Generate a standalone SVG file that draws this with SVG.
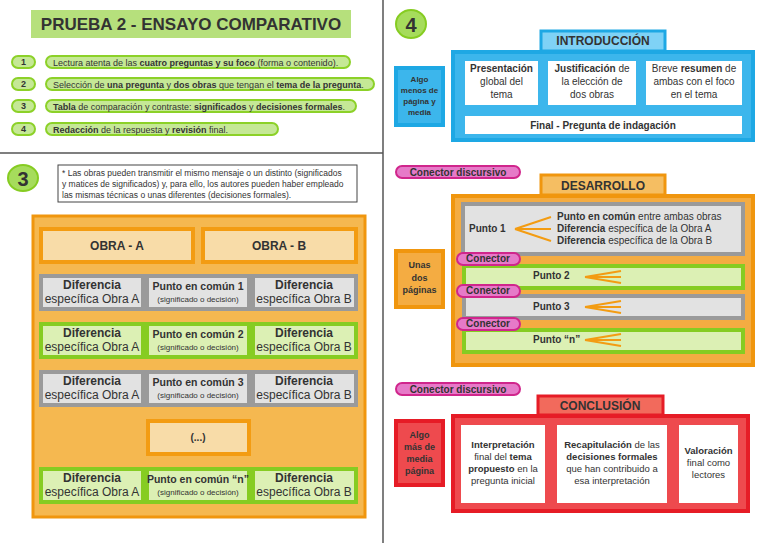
<svg xmlns="http://www.w3.org/2000/svg" width="768" height="543" viewBox="0 0 768 543">
<style>
text{font-family:"Liberation Sans",Arial,sans-serif;fill:#333}
.b{font-weight:bold}
.pillg{fill:#c5e896;stroke:#8cd128;stroke-width:2}
.gray{fill:#e2e2e2;stroke:#9a9a9a;stroke-width:4}
.green{fill:#dcf0b4;stroke:#86cc22;stroke-width:4}
.ocell{fill:#f8dca8;stroke:#f39c12;stroke-width:4}
.pink{fill:#e67ac8;stroke:#d0268c;stroke-width:2}
.blue{fill:#3cb6ec;stroke:#1ea8e4;stroke-width:4}
.orange{fill:#f4ac42;stroke:#f0960e;stroke-width:4}
.red{fill:#ee4a4e;stroke:#e61c26;stroke-width:4}
.white{fill:#fff}
.fan{stroke:#f39c12;stroke-width:2;fill:none}
</style>
<rect width="768" height="543" fill="#fff"/>
<g id="dividers" stroke="#555" stroke-width="1.5"><line x1="383" y1="0" x2="383" y2="543"/><line x1="0" y1="153" x2="383" y2="153"/></g>

<g id="title"><rect x="31" y="10" width="320" height="28" fill="#b6e07c"/><text x="191" y="30" font-size="17" class="b" text-anchor="middle" fill="#222">PRUEBA 2 - ENSAYO COMPARATIVO</text></g>

<g id="steps">
<rect class="pillg" x="12" y="56" width="23" height="12" rx="6"/><text x="23.5" y="65" text-anchor="middle" class="b" font-size="9">1</text>
<rect class="pillg" x="46" y="56" width="304" height="12" rx="6"/><text x="53" y="65.5" font-size="9">Lectura atenta de las <tspan class="b">cuatro preguntas y su foco</tspan> (forma o contenido).</text>
<rect class="pillg" x="12" y="78" width="23" height="12" rx="6"/><text x="23.5" y="87" text-anchor="middle" class="b" font-size="9">2</text>
<rect class="pillg" x="46" y="78" width="328" height="12" rx="6"/><text x="53" y="87.5" font-size="9">Selección de <tspan class="b">una pregunta</tspan> y <tspan class="b">dos obras</tspan> que tengan el <tspan class="b">tema de la pregunta</tspan>.</text>
<rect class="pillg" x="12" y="100" width="23" height="12" rx="6"/><text x="23.5" y="109" text-anchor="middle" class="b" font-size="9">3</text>
<rect class="pillg" x="46" y="100" width="310" height="12" rx="6"/><text x="53" y="109.5" font-size="9"><tspan class="b">Tabla</tspan> de comparación y contraste: <tspan class="b">significados</tspan> y <tspan class="b">decisiones formales</tspan>.</text>
<rect class="pillg" x="12" y="123" width="23" height="12" rx="6"/><text x="23.5" y="132" text-anchor="middle" class="b" font-size="9">4</text>
<rect class="pillg" x="46" y="123" width="232" height="12" rx="6"/><text x="53" y="132.5" font-size="9"><tspan class="b">Redacción</tspan> de la respuesta y <tspan class="b">revisión</tspan> final.</text>
</g>

<g id="sec3">
<ellipse cx="23" cy="178" rx="15" ry="13" fill="#a6dc5c" stroke="#86cc22" stroke-width="2"/><text x="23" y="186" text-anchor="middle" class="b" font-size="20" fill="#222">3</text>
<rect x="58" y="165" width="299" height="37" fill="#fff" stroke="#444" stroke-width="1"/>
<text font-size="8.5" fill="#333"><tspan x="62" y="176">* Las obras pueden transmitir el mismo mensaje o un distinto (significados</tspan><tspan x="62" y="187">y matices de significados) y, para ello, los autores pueden haber empleado</tspan><tspan x="62" y="198">las mismas técnicas o unas diferentes (decisiones formales).</tspan></text>
</g>

<g id="tabla">
<rect x="33" y="216" width="332" height="301" fill="#f5b850" stroke="#f0960e" stroke-width="3"/>
<rect class="ocell" x="41" y="229" width="152" height="33"/><text x="117" y="250" text-anchor="middle" class="b" font-size="12">OBRA - A</text>
<rect class="ocell" x="203" y="229" width="153" height="33"/><text x="279" y="250" text-anchor="middle" class="b" font-size="12">OBRA - B</text>
<g font-size="12">
<rect class="gray" x="41" y="276" width="102" height="33"/><rect class="gray" x="147" y="276" width="102" height="33"/><rect class="gray" x="253" y="276" width="103" height="33"/>
<text x="92" y="289" text-anchor="middle" class="b">Diferencia</text><text x="92" y="303" text-anchor="middle">específica Obra A</text>
<text x="198" y="290" text-anchor="middle" class="b" font-size="10.5">Punto en común 1</text><text x="198" y="302" text-anchor="middle" font-size="8">(significado o decisión)</text>
<text x="304" y="289" text-anchor="middle" class="b">Diferencia</text><text x="304" y="303" text-anchor="middle">específica Obra B</text>
<rect class="green" x="41" y="324" width="102" height="33"/><rect class="green" x="147" y="324" width="102" height="33"/><rect class="green" x="253" y="324" width="103" height="33"/>
<text x="92" y="337" text-anchor="middle" class="b">Diferencia</text><text x="92" y="351" text-anchor="middle">específica Obra A</text>
<text x="198" y="338" text-anchor="middle" class="b" font-size="10.5">Punto en común 2</text><text x="198" y="350" text-anchor="middle" font-size="8">(significado o decisión)</text>
<text x="304" y="337" text-anchor="middle" class="b">Diferencia</text><text x="304" y="351" text-anchor="middle">específica Obra B</text>
<rect class="gray" x="41" y="372" width="102" height="33"/><rect class="gray" x="147" y="372" width="102" height="33"/><rect class="gray" x="253" y="372" width="103" height="33"/>
<text x="92" y="385" text-anchor="middle" class="b">Diferencia</text><text x="92" y="399" text-anchor="middle">específica Obra A</text>
<text x="198" y="386" text-anchor="middle" class="b" font-size="10.5">Punto en común 3</text><text x="198" y="398" text-anchor="middle" font-size="8">(significado o decisión)</text>
<text x="304" y="385" text-anchor="middle" class="b">Diferencia</text><text x="304" y="399" text-anchor="middle">específica Obra B</text>
<rect class="ocell" x="148" y="421" width="101" height="33"/><text x="198" y="441" text-anchor="middle" class="b" font-size="10">(...)</text>
<rect class="green" x="41" y="469" width="102" height="33"/><rect class="green" x="147" y="469" width="102" height="33"/><rect class="green" x="253" y="469" width="103" height="33"/>
<text x="92" y="482" text-anchor="middle" class="b">Diferencia</text><text x="92" y="496" text-anchor="middle">específica Obra A</text>
<text x="198" y="483" text-anchor="middle" class="b" font-size="10.5">Punto en común “n”</text><text x="198" y="495" text-anchor="middle" font-size="8">(significado o decisión)</text>
<text x="304" y="482" text-anchor="middle" class="b">Diferencia</text><text x="304" y="496" text-anchor="middle">específica Obra B</text>
</g>
</g>

<g id="sec4"><ellipse cx="411" cy="24" rx="15" ry="14" fill="#a6dc5c" stroke="#86cc22" stroke-width="2"/><text x="411" y="32" text-anchor="middle" class="b" font-size="20" fill="#222">4</text></g>

<g id="introduccion">
<rect class="blue" x="453" y="52" width="300" height="88"/>
<rect x="541" y="31" width="124" height="20" fill="#7fd2f6" stroke="#1ea8e4" stroke-width="3"/>
<text x="603" y="45" text-anchor="middle" class="b" font-size="12">INTRODUCCIÓN</text>
<rect class="blue" x="396" y="68" width="47" height="57" stroke-width="3"/>
<text font-size="8" class="b" text-anchor="middle"><tspan x="419.5" y="82">Algo</tspan><tspan x="419.5" y="93">menos de</tspan><tspan x="419.5" y="104">página y</tspan><tspan x="419.5" y="115">media</tspan></text>
<g font-size="10" text-anchor="middle">
<rect class="white" x="465" y="61" width="73" height="44"/><text x="501.5" y="72" class="b">Presentación</text><text x="501.5" y="85">global del</text><text x="501.5" y="98">tema</text>
<rect class="white" x="548" y="61" width="88" height="44"/><text x="592" y="72"><tspan class="b">Justificación</tspan> de</text><text x="592" y="85">la elección de</text><text x="592" y="98">dos obras</text>
<rect class="white" x="646" y="61" width="96" height="44"/><text x="694" y="72">Breve <tspan class="b">resumen</tspan> de</text><text x="694" y="85">ambas con el foco</text><text x="694" y="98">en el tema</text>
<rect class="white" x="465" y="116" width="277" height="18"/><text x="603" y="129" class="b">Final -  Pregunta de indagación</text>
</g>
</g>

<g id="conector1"><rect class="pink" x="396" y="166" width="124" height="12" rx="6"/><text x="458" y="175.5" text-anchor="middle" class="b" font-size="10">Conector discursivo</text></g>

<g id="desarrollo">
<rect class="orange" x="453" y="196" width="300" height="169"/>
<rect x="541" y="175" width="124" height="20" fill="#f5be62" stroke="#f0960e" stroke-width="3"/>
<text x="603" y="190" text-anchor="middle" class="b" font-size="12">DESARROLLO</text>
<rect class="orange" x="396" y="251" width="47" height="56" stroke-width="3"/>
<text font-size="9" class="b" text-anchor="middle"><tspan x="419.5" y="268">Unas</tspan><tspan x="419.5" y="281">dos</tspan><tspan x="419.5" y="293">páginas</tspan></text>
<rect class="gray" x="463" y="204" width="280" height="50" stroke-width="3"/>
<text x="469" y="232" class="b" font-size="10">Punto 1</text>
<path class="fan" d="M515 229 L551 217 M515 229 L551 229 M515 229 L551 241"/>
<text font-size="10"><tspan x="557" y="220"><tspan class="b">Punto en común</tspan> entre ambas obras</tspan><tspan x="557" y="232"><tspan class="b">Diferencia</tspan> específica de la Obra A</tspan><tspan x="557" y="244"><tspan class="b">Diferencia</tspan> específica de la Obra B</tspan></text>
<rect class="green" x="464" y="266" width="279" height="22" stroke-width="3"/><text x="533" y="279" class="b" font-size="10">Punto 2</text>
<path class="fan" d="M585 277 L621 271 M585 277 L621 277 M585 277 L621 283"/>
<rect class="gray" x="464" y="296" width="279" height="22" stroke-width="3"/><text x="533" y="310" class="b" font-size="10">Punto 3</text>
<path class="fan" d="M585 307 L621 301 M585 307 L621 307 M585 307 L621 313"/>
<rect class="green" x="464" y="330" width="279" height="22" stroke-width="3"/><text x="533" y="343" class="b" font-size="10">Punto “n”</text>
<path class="fan" d="M585 340 L621 334 M585 340 L621 340 M585 340 L621 346"/>
<rect class="pink" x="457" y="253" width="63" height="12" rx="6"/><text x="488" y="262" text-anchor="middle" class="b" font-size="10">Conector</text>
<rect class="pink" x="457" y="285" width="63" height="12" rx="6"/><text x="488" y="294" text-anchor="middle" class="b" font-size="10">Conector</text>
<rect class="pink" x="457" y="318" width="63" height="12" rx="6"/><text x="488" y="327" text-anchor="middle" class="b" font-size="10">Conector</text>
</g>

<g id="conector2"><rect class="pink" x="396" y="383" width="124" height="12" rx="6"/><text x="458" y="392.5" text-anchor="middle" class="b" font-size="10">Conector discursivo</text></g>

<g id="conclusion">
<rect class="red" x="453" y="416" width="295" height="95"/>
<rect x="538" y="396" width="125" height="19" fill="#f26a5c" stroke="#e61c26" stroke-width="3"/>
<text x="600" y="410" text-anchor="middle" class="b" font-size="12">CONCLUSIÓN</text>
<rect class="red" x="396" y="421" width="47" height="64" stroke-width="3"/>
<text font-size="9" class="b" text-anchor="middle"><tspan x="419.5" y="438">Algo</tspan><tspan x="419.5" y="450">más de</tspan><tspan x="419.5" y="462">media</tspan><tspan x="419.5" y="474">página</tspan></text>
<g font-size="9.5" text-anchor="middle">
<rect class="white" x="461" y="425" width="84" height="78"/><text x="503" y="448" class="b">Interpretación</text><text x="503" y="460">final del <tspan class="b">tema</tspan></text><text x="503" y="472"><tspan class="b">propuesto</tspan> en la</text><text x="503" y="484">pregunta inicial</text>
<rect class="white" x="557" y="425" width="110" height="78"/><text x="612" y="448"><tspan class="b">Recapitulación</tspan> de las</text><text x="612" y="460" class="b">decisiones formales</text><text x="612" y="472">que han contribuido a</text><text x="612" y="484">esa interpretación</text>
<rect class="white" x="679" y="425" width="59" height="78"/><text x="708.5" y="454" class="b">Valoración</text><text x="708.5" y="466">final como</text><text x="708.5" y="478">lectores</text>
</g>
</g>
</svg>
